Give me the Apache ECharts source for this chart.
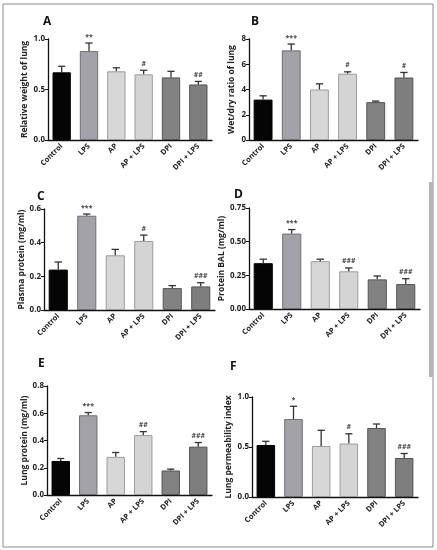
<!DOCTYPE html>
<html><head><meta charset="utf-8">
<script src="https://cdn.jsdelivr.net/npm/echarts@6/dist/echarts.min.js"></script>
<style>html,body{margin:0;padding:0;background:#fff}#c{width:437px;height:550px}</style>
</head><body><div id="c"></div>
<script>
const categories = ['Control','LPS','AP','AP + LPS','DPI','DPI + LPS'];
const barColors = ['#050505','#a3a2a8','#d7d7d7','#d4d4d4','#828282','#7e7e7e'];
const barBorders = ['#000000','#6f6e74','#9c9c9c','#9c9c9c','#555555','#555555'];

const meanA = [0.67,0.88,0.68,0.65,0.62,0.55];
const errA  = [0.06,0.08,0.035,0.04,0.06,0.03];
const sigA  = ['','**','','#','','##'];

const meanB = [3.2,7.1,4.0,5.25,3.0,4.95];
const errB  = [0.3,0.5,0.45,0.15,0.08,0.4];
const sigB  = ['','***','','#','','#'];

const meanC = [0.24,0.56,0.325,0.41,0.13,0.14];
const errC  = [0.045,0.01,0.035,0.035,0.015,0.022];
const sigC  = ['','***','','#','','###'];

const meanD = [0.34,0.56,0.355,0.28,0.22,0.185];
const errD  = [0.03,0.03,0.015,0.025,0.025,0.04];
const sigD  = ['','***','','###','','###'];

const meanE = [0.25,0.585,0.28,0.44,0.18,0.355];
const errE  = [0.018,0.02,0.032,0.025,0.01,0.03];
const sigE  = ['','***','','##','','###'];

const meanF = [0.52,0.78,0.51,0.535,0.69,0.39];
const errF  = [0.037,0.127,0.157,0.097,0.04,0.045];
const sigF  = ['','*','','#','','###'];

const panels = [
  {letter:'A', name:'Relative weight of lung', mean:meanA, err:errA, sig:sigA, max:1.0, interval:0.5, dec:1,
   grid:{left:48, right:212, top:39, bottom:140}, gap:19, lx:43, ly:16},
  {letter:'B', name:'Wet/dry ratio of lung', mean:meanB, err:errB, sig:sigB, max:8, interval:2, dec:0,
   grid:{left:249, right:418, top:39, bottom:140}, gap:13, lx:251, ly:16},
  {letter:'C', name:'Plasma protein (mg/ml)', mean:meanC, err:errC, sig:sigC, max:0.6, interval:0.2, dec:1,
   grid:{left:44, right:215, top:209, bottom:310}, gap:16, lx:37, ly:191},
  {letter:'D', name:'Protein BAL (mg/ml)', mean:meanD, err:errD, sig:sigD, max:0.75, interval:0.25, dec:2,
   grid:{left:249, right:420, top:208, bottom:309}, gap:21, lx:234, ly:189},
  {letter:'E', name:'Lung protein (mg/ml)', mean:meanE, err:errE, sig:sigE, max:0.8, interval:0.2, dec:1,
   grid:{left:47, right:212, top:386, bottom:495}, gap:18, lx:38, ly:358},
  {letter:'F', name:'Lung permeability index', mean:meanF, err:errF, sig:sigF, max:1.0, interval:0.5, dec:1,
   grid:{left:252, right:418, top:397, bottom:497}, gap:19, lx:230, ly:361}
];

const FONT = '"Open Sans", "DejaVu Sans", sans-serif';
const grids = [], xAxes = [], yAxes = [], series = [], graphics = [];

panels.forEach((p, k) => {
  grids.push({left:p.grid.left, top:p.grid.top, width:p.grid.right-p.grid.left, height:p.grid.bottom-p.grid.top, containLabel:false});
  xAxes.push({
    type:'category', gridIndex:k, data:categories,
    axisLine:{lineStyle:{color:'#111', width:1.3}},
    axisTick:{alignWithLabel:true, length:3, lineStyle:{color:'#111'}},
    axisLabel:{interval:0, rotate:45, fontSize:7.5, fontWeight:'bold', color:'#222', fontFamily:FONT, margin:5}
  });
  yAxes.push({
    type:'value', gridIndex:k, min:0, max:p.max, interval:p.interval,
    name:p.name, nameLocation:'middle', nameGap:p.gap,
    nameTextStyle:{fontSize:8.5, fontWeight:'bold', color:'#222', fontFamily:FONT},
    axisLine:{show:true, lineStyle:{color:'#111', width:1.3}},
    axisTick:{show:true, length:3, lineStyle:{color:'#111'}},
    splitLine:{show:false},
    axisLabel:{fontSize:8, fontWeight:'bold', color:'#222', fontFamily:FONT, margin:3,
      formatter: v => v.toFixed(p.dec)}
  });
  series.push({
    type:'bar', xAxisIndex:k, yAxisIndex:k, barCategoryGap:'33%',
    data:p.mean.map((v,i)=>({value:v, itemStyle:{color:barColors[i], borderColor:barBorders[i], borderWidth:1}})),
    z:2
  });
  const sig = p.sig;
  series.push({
    type:'custom', xAxisIndex:k, yAxisIndex:k, z:3,
    data:p.mean.map((v,i)=>[i, v, p.err[i]]),
    renderItem:(params, api) => {
      const i = api.value(0), m = api.value(1), e = api.value(2);
      const base = api.coord([i, m]);
      const top = api.coord([i, m+e]);
      const hw = api.size([1,0])[0]*0.13;
      const ls = {stroke:'#333', lineWidth:1.3};
      const children = [
        {type:'line', shape:{x1:base[0], y1:base[1], x2:top[0], y2:top[1]}, style:ls},
        {type:'line', shape:{x1:top[0]-hw, y1:top[1], x2:top[0]+hw, y2:top[1]}, style:ls}
      ];
      if (sig[i]) children.push({type:'text', x:top[0], y:top[1]-3,
        style:{text:sig[i], fill:'#444', font:'bold 7px '+FONT, textAlign:'center', textVerticalAlign:'bottom'}});
      return {type:'group', children};
    }
  });
  graphics.push({type:'text', left:p.lx, top:p.ly, style:{text:p.letter, font:'bold 12px '+FONT, fill:'#111'}});
});

graphics.push({type:'rect', shape:{x:3, y:4, width:430, height:543}, style:{fill:'none', stroke:'#8a8a8a', lineWidth:1}, z:-1});
graphics.push({type:'rect', shape:{x:429, y:182, width:4, height:195}, style:{fill:'#b5b5b5'}, z:-1});

const chart = echarts.init(document.getElementById('c'), null, {renderer:'canvas'});
chart.setOption({
  animation:false, backgroundColor:'#fff',
  grid:grids, xAxis:xAxes, yAxis:yAxes, series:series, graphic:graphics
});
</script></body></html>
